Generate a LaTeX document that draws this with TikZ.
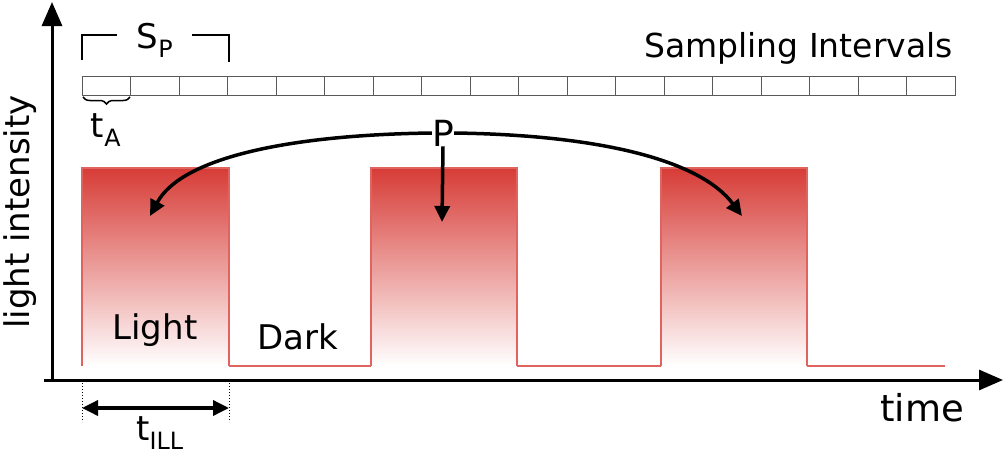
\documentclass[tikz,border=0pt]{standalone}
\usepackage{fontspec}
\setmainfont{DejaVu Sans}
\usetikzlibrary{arrows.meta,decorations.pathreplacing}
\definecolor{rd}{RGB}{215,60,55}
\begin{document}
\begin{tikzpicture}[x=1pt,y=-1pt,
  lbl/.style={inner sep=0pt,font=\fontsize{34}{36}\selectfont},
  pulse/.style={draw=rd!80,line width=1.8pt,top color=rd,bottom color=white},
  ar/.style={-{Triangle[length=16pt,width=15pt]},line width=3.5pt}]
\useasboundingbox (0,0) rectangle (1004,455);
% axes
\draw[-{Triangle[length=24pt,width=20pt]},line width=3pt] (52,382) -- (52,2);
\draw[-{Triangle[length=24pt,width=20pt]},line width=3pt] (44,380) -- (1003,380);
\node[lbl,rotate=90] (yl) at (20,212) {light intensity};
\node[lbl,font=\fontsize{37}{40}\selectfont] (xl) at (922,408) {time};
% baseline
\draw[rd!80,line width=1.8pt] (82,366) -- (82,168) (229,366) -- (371,366) (517,366) -- (661,366) (807,366) -- (945,366);
\foreach \a/\b/\n in {82/229/p1,371/517/p2,661/807/p3}
  \path[pulse] (\a,366) -- (\a,168) -- (\b,168) -- (\b,366);
\node[lbl] (light) at (155,330) {Light};
\node[lbl] (dark) at (298,337) {Dark};
% sampling intervals
\foreach \i in {0,...,17}
  \draw[gray!70!black,line width=1pt] ({82+\i*48.5},76) rectangle ({82+(\i+1)*48.5},95);
\node[lbl,anchor=east,font=\fontsize{33}{35}\selectfont] (si) at (953,48) {Sampling Intervals};
\draw[line width=1.5pt] (82,60) -- (82,35) -- (117,35);
\draw[line width=1.5pt] (192,35) -- (229,35) -- (229,62);
\node[lbl] (sp) at (155,40) {S\textsubscript{P}};
\draw[decorate,decoration={brace,amplitude=7pt,mirror},line width=1.5pt] (83,97) -- (130,97);
\node[lbl] (ta) at (106,130) {t\textsubscript{A}};
% P arrows
\node[lbl,font=\fontsize{36}{38}\selectfont] (P) at (443,133) {P};
\coordinate (e1) at (150,216);
\coordinate (e2) at (442,222);
\coordinate (e3) at (742,216);
\draw[ar] (P.west) .. controls (280,135) and (180,160) .. (e1);
\draw[ar] (P.south) -- (e2);
\draw[ar] (P.east) .. controls (600,135) and (700,160) .. (e3);
% t_ILL
\draw[dotted,line width=1pt] (82,380) -- (82,422) (229,380) -- (229,422);
\coordinate (t1) at (82,408); \coordinate (t2) at (229,408);
\draw[{Triangle[length=16pt,width=15pt]}-{Triangle[length=16pt,width=15pt]},line width=3.5pt] (t1) -- (t2);
\node[lbl] (till) at (160,433) {t\textsubscript{ILL}};
\end{tikzpicture}
\end{document}
